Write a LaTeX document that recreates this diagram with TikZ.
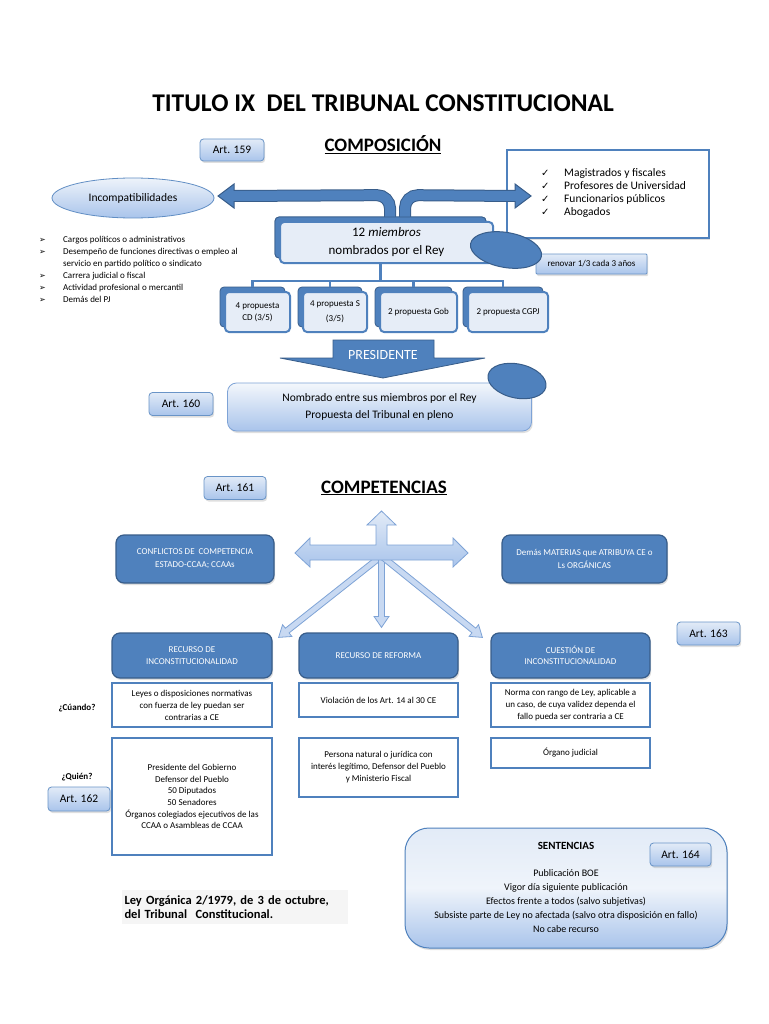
\documentclass[tikz,border=0pt]{standalone}
\usepackage{fontspec}
\setmainfont{Carlito}
\newfontfamily\dvs{DejaVu Sans}
\usetikzlibrary{shapes.geometric,shadows,calc}
\definecolor{acc}{HTML}{4F81BD}
\definecolor{accdk}{HTML}{385D8A}
\definecolor{lb1}{HTML}{E2EBF7}
\definecolor{lb2}{HTML}{A9C4EB}
\definecolor{lbd}{HTML}{7EA3D6}
\definecolor{pale}{HTML}{E6EDF7}
\newcommand\fs[2]{\fontsize{#1}{#2}\selectfont}
\newcommand\thinarr[2]{%
  \coordinate (hh) at ($(#2)!11pt!(#1)$);
  \draw[fill=lb1!55!lb2, draw=lbd, line width=0.8pt]
    ($(#1)!3pt!90:(#2)$) -- ($(hh)!3pt!90:(#2)$) -- ($(hh)!7.5pt!90:(#2)$) -- (#2)
    -- ($(hh)!7.5pt!-90:(#2)$) -- ($(hh)!3pt!-90:(#2)$) -- ($(#1)!3pt!-90:(#2)$) -- cycle;}
\begin{document}
\begin{tikzpicture}[x=1pt,y=-1pt,
  sz/.style 2 args={minimum width=#1pt,minimum height=#2pt},
  shad/.style={drop shadow={shadow xshift=1.2pt,shadow yshift=-2pt,opacity=0.25}},
  artbox/.style={draw=acc!85, line width=0.8pt, rounded corners=3.5pt, top color=lb1, bottom color=lb2,
     shad, inner sep=0pt, font=\fs{11.5}{13}},
  darkbox/.style={draw=accdk, line width=1.2pt, fill=acc, rounded corners=8pt, text=white,
     align=center, inner sep=0pt, font=\fs{9}{11.5}, shad},
  wbox/.style={draw=acc, line width=1.8pt, fill=white, align=center, inner sep=0pt, font=\fs{9}{12}},
  backbox/.style={fill=acc, draw=accdk, line width=0.8pt, rounded corners=4pt, inner sep=0pt},
  frontbox/.style={fill=pale, draw=acc, line width=2pt, rounded corners=4pt, inner sep=0pt, align=center},
  tree/.style={draw=acc, line width=2.5pt},
  darkell/.style={ellipse, fill=acc, draw=accdk, line width=1pt, inner sep=0pt},
  bigarrow/.style={draw=accdk, line width=1pt, double=acc, double distance=10pt, rounded corners=13pt},
  headfill/.style={fill=acc, draw=accdk, line width=1pt, line join=miter},
  bul/.style={}
]
\useasboundingbox (0,0) rectangle (768,1024);
\fill[white] (0,0) rectangle (768,1024);

% ---------- title ----------
\node[font=\bfseries\fs{25.5}{30}] (title) at (383,103) {TITULO IX\ \ DEL TRIBUNAL CONSTITUCIONAL};
\node[font=\bfseries\fs{19}{22}] (comp) at (383,145) {\underline{COMPOSICIÓN}};
\node[artbox, sz={64}{22}] (a159) at (232,150) {Art. 159};

% ---------- checklist box ----------
\node[draw=acc, line width=2pt, fill=white, sz={202}{88}, inner sep=0pt, shad] (chk) at (608,194) {};
\node[anchor=north west, inner sep=0pt, font=\fs{11.5}{13}] (chkl) at (541,167) {%
  \begin{tabular}{@{}p{23pt}@{}l@{}}
  {\dvs\fs{10}{13}✓} & Magistrados y fiscales\\
  {\dvs\fs{10}{13}✓} & Profesores de Universidad\\
  {\dvs\fs{10}{13}✓} & Funcionarios públicos\\
  {\dvs\fs{10}{13}✓} & Abogados
  \end{tabular}};

% ---------- incompatibilidades ----------
\node[ellipse, draw=acc!90, line width=0.8pt, top color=white!40!lb1, bottom color=lb2, sz={162}{40},
      inner sep=0pt, font=\fs{11.5}{13}] (inc) at (133,198) {Incompatibilidades};
\node[anchor=north west, inner sep=0pt, font=\fs{9}{12}] (incl) at (39,234) {%
  \begin{tabular}{@{}p{24pt}@{}l@{}}
  {\dvs\fs{8}{12}➢} & Cargos políticos o administrativos\\
  {\dvs\fs{8}{12}➢} & Desempeño de funciones directivas o empleo al\\
   & servicio en partido político o sindicato\\
  {\dvs\fs{8}{12}➢} & Carrera judicial o fiscal\\
  {\dvs\fs{8}{12}➢} & Actividad profesional o mercantil\\
  {\dvs\fs{8}{12}➢} & Demás del PJ
  \end{tabular}};

% ---------- 12 miembros + big arrow ----------
\node[backbox, sz={211}{41}] (memb) at (380.5,237.5) {};
\draw[bigarrow] ($(memb.north)+(9.5,6)$) -- ++(0,-27.5) -- (234,196);
\draw[bigarrow] ($(memb.north)+(24.5,6)$) -- ++(0,-27.5) -- (515,196);
\draw[headfill] (234,184) -- (218,196) -- (234,208) -- cycle;
\draw[acc, line width=10pt] (232.8,196) -- (236,196);
\draw[headfill] (515,184) -- (531,196) -- (515,208) -- cycle;
\draw[acc, line width=10pt] (513,196) -- (516.2,196);
\node[backbox, sz={211}{41}] (memb2) at (380.5,237.5) {};
\node[frontbox, sz={213}{41}, font=\fs{13}{18}] (mem) at (386.5,242.5) {12 \textit{miembros}\\nombrados por el Rey};

% ---------- tree and four boxes ----------
\node[backbox, sz={65}{40}] (p1b) at (252.5,307) {};
\node[backbox, sz={64}{40}] (p2b) at (330,307) {};
\node[backbox, sz={77}{40}] (p3b) at (413.5,307) {};
\node[backbox, sz={80}{40}] (p4b) at (503,307) {};
\coordinate (bus) at (380.5,281);
\draw[tree] (mem.south -| memb.south) -- (bus);
\draw[tree] (p1b.north) |- (bus) -| (p4b.north);
\draw[tree] (p2b.north) -- (p2b.north |- bus);
\draw[tree] (p3b.north) -- (p3b.north |- bus);
\node[frontbox, sz={65}{40}, font=\fs{9}{12}] (p1) at (257.5,312) {4 propuesta\\CD (3/5)};
\node[frontbox, sz={64}{40}, font=\fs{9}{15}] (p2) at (335,312) {4 propuesta S\\(3/5)};
\node[frontbox, sz={77}{40}, font=\fs{9}{12}] (p3) at (418.5,312) {2 propuesta Gob};
\node[frontbox, sz={80}{40}, font=\fs{9}{12}] (p4) at (508,312) {2 propuesta CGPJ};

% ---------- renovar ----------
\node[artbox, rounded corners=1pt, sz={111}{20}, font=\fs{9}{10}] (ren) at (591.5,264) {renovar 1/3 cada 3 años};
\node[darkell, sz={72}{35}, rotate=-10] (e1) at (506,250) {};

% ---------- presidente ----------
\draw[fill=acc, draw=accdk, line width=0.8pt] (333,340) -- (434,340) -- (434,358) -- (485,358)
   -- (383,378) -- (280,358) -- (333,358) -- cycle;
\node[text=white, font=\fs{14}{16}] (pres) at (383,355) {PRESIDENTE};
\node[draw=lbd, line width=0.8pt, rounded corners=9pt, top color=white!60!lb1, bottom color=lb2,
      sz={304}{48}, align=center, inner sep=0pt, font=\fs{11.5}{17}, shad] (nom) at (379.5,407)
      {Nombrado entre sus miembros por el Rey\\Propuesta del Tribunal en pleno};
\node[darkell, sz={59}{34}, rotate=-12] (e2) at (517,381) {};
\node[artbox, sz={64}{23}] (a160) at (181,404) {Art. 160};

% ---------- competencias ----------
\node[artbox, sz={62}{23}] (a161) at (235,488) {Art. 161};
\node[font=\bfseries\fs{19}{22}] (compt) at (384,488) {\underline{COMPETENCIAS}};
\node[darkbox, sz={158}{48}, font=\fs{9}{13}] (conf) at (195,559) {CONFLICTOS DE\ \ COMPETENCIA\\ESTADO-CCAA; CCAAs};
\node[darkbox, sz={165}{48}, font=\fs{9}{13}] (dem) at (584.5,559) {Demás MATERIAS que ATRIBUYA CE o\\Ls ORGÁNICAS};

\node[darkbox, sz={160}{45}] (rin) at (192,655.5) {RECURSO DE\\INCONSTITUCIONALIDAD};
\node[darkbox, sz={159}{45}] (rr) at (378.5,655.5) {RECURSO DE REFORMA};
\node[darkbox, sz={159}{45}] (cue) at (570.5,655.5) {CUESTIÓN DE\\INCONSTITUCIONALIDAD};
\node[artbox, sz={63}{23}] (a163) at (708.5,633.5) {Art. 163};

\coordinate (hub) at (381.5,556);
\coordinate (tl) at ($(rin.north east)+(6,5)$);
\coordinate (tm) at ($(rr.north)+(3,-5)$);
\coordinate (tr) at ($(cue.north west)+(-8,5)$);
\thinarr{hub}{tl}
\thinarr{hub}{tm}
\thinarr{hub}{tr}
\draw[top color=lb1, bottom color=lb2, draw=lbd, line width=0.8pt, line join=miter]
  (376,545) -- (376,525) -- (367,525) -- (381.5,511) -- (396,525) -- (387,525) -- (387,545)
  -- (453,545) -- (453,538) -- (468,553) -- (453,567) -- (453,560) -- (310,560) -- (310,567)
  -- (295,553) -- (310,538) -- (310,545) -- cycle;

\node[wbox, sz={160}{44}] (w1) at (192,705) {Leyes o disposiciones normativas\\con fuerza de ley puedan ser\\contrarias a CE};
\node[wbox, sz={159}{34}] (w2) at (378.5,700) {Violación de los Art. 14 al 30 CE};
\node[wbox, sz={159}{44}] (w3) at (570.5,705) {Norma con rango de Ley, aplicable a\\un caso, de cuya validez dependa el\\fallo pueda ser contraria a CE};
\node[wbox, sz={160}{117}, font=\fs{9}{11.6}] (q1) at (192,796.5) {Presidente del Gobierno\\Defensor del Pueblo\\50 Diputados\\50 Senadores\\Órganos colegiados ejecutivos de las\\CCAA o Asambleas de CCAA};
\node[wbox, sz={159}{59}] (q2) at (378.5,767.5) {Persona natural o jurídica con\\interés legítimo, Defensor del Pueblo\\y Ministerio Fiscal};
\node[wbox, sz={159}{30}] (q3) at (570.5,753) {Órgano judicial};

\node[font=\bfseries\fs{9}{10}] (cuando) at (77,708) {¿Cúando?};
\node[font=\bfseries\fs{9}{10}] (quien) at (77,777) {¿Quién?};
\node[artbox, sz={62}{24}] (a162) at (79,799) {Art. 162};

% ---------- ley organica ----------
\node[fill=black!4, text width=221pt, align=left, inner xsep=2.5pt, inner ysep=5pt,
      font=\bfseries\fs{12.5}{14.5}] (ley) at (235,907)
  {\makebox[221pt][s]{Ley Orgánica 2/1979, de 3 de octubre,}\\del Tribunal\ \ Constitucional.};

% ---------- sentencias ----------
\node[draw=acc, line width=1pt, rounded corners=24pt, top color=lb1, bottom color=lb2, middle color=white!45!lb1,
      sz={322}{120}, inner sep=0pt, shad] (sent) at (566,888) {};
\node[font=\bfseries\fs{11}{13}] (senttit) at (566,846) {SENTENCIAS};
\node[align=center, font=\fs{10}{14}] (sentbody) at (566,901)
  {Publicación BOE\\Vigor día siguiente publicación\\Efectos frente a todos (salvo subjetivas)\\Subsiste parte de Ley no afectada (salvo otra disposición en fallo)\\No cabe recurso};
\node[artbox, sz={61}{23}] (a164) at (680.5,854.5) {Art. 164};
\end{tikzpicture}
\end{document}
